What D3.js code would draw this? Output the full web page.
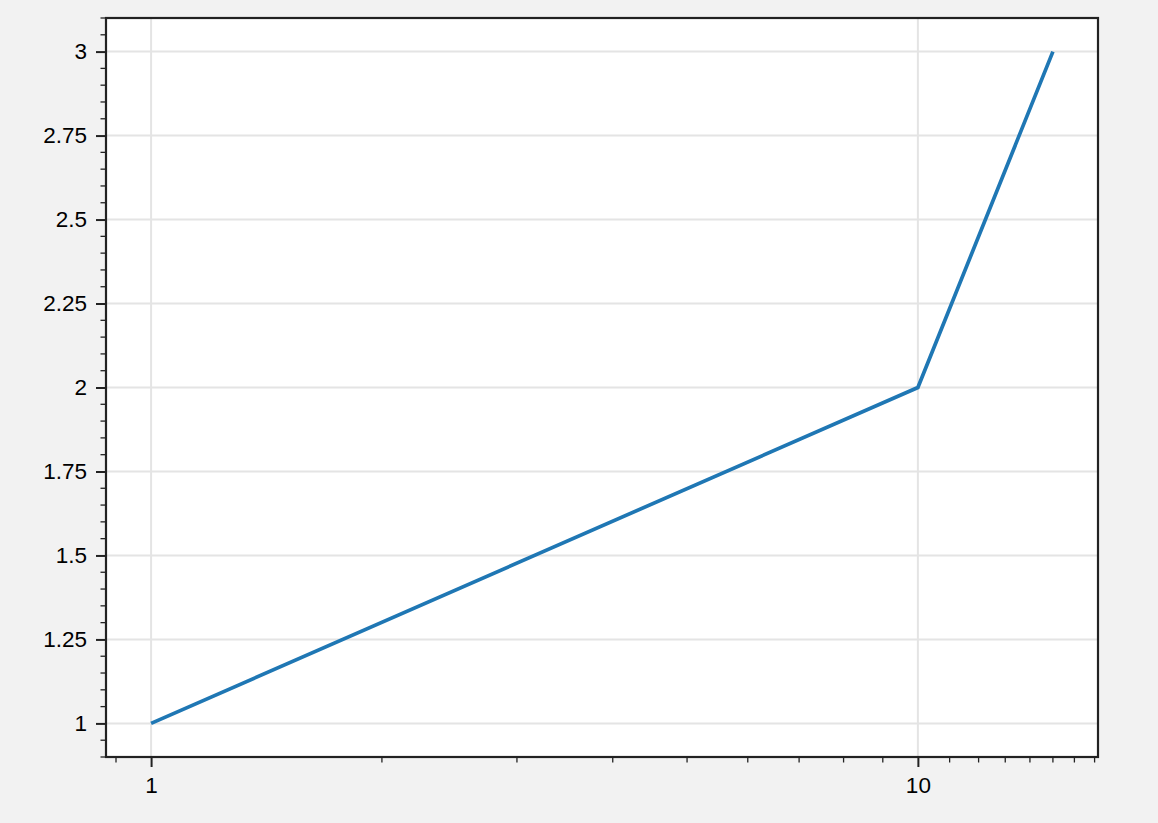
<!DOCTYPE html>
<html>
<head>
<meta charset="utf-8">
<script src="https://cdn.jsdelivr.net/npm/d3@7"></script>
<style>
  html, body { margin: 0; padding: 0; background: #f2f2f2; }
  svg { display: block; }
  text { font-family: "Liberation Sans", Arial, sans-serif; fill: #000; }
</style>
</head>
<body>
<svg id="chart"></svg>
<script>
// data
const xs = [1, 10, 15];
const ys = [1, 2, 3];
const xMajor = [1, 10];
const xMinor = [0.9, 2, 3, 4, 5, 6, 7, 8, 9, 11, 12, 13, 14, 15, 16, 17];
const yMajor = [1, 1.25, 1.5, 1.75, 2, 2.25, 2.5, 2.75, 3];
const yMinor = d3.range(0.9, 3.1001, 0.05).map(d => +d.toFixed(2));

const W = 1158, H = 823;
const mLeft = 106, mRight = 1098, mTop = 18, mBottom = 757;

let svg = d3.select("svg#chart")
  .attr("width", W)
  .attr("height", H);

// 5% margins in log space, like matplotlib
let lx = d3.extent(xs).map(Math.log10);
let pad = (lx[1] - lx[0]) * 0.05;
let xScale = d3.scaleLog()
  .domain([Math.pow(10, lx[0] - pad), Math.pow(10, lx[1] + pad)])
  .range([mLeft, mRight]);

let yScale = d3.scaleLinear()
  .domain([0.9, 3.1])
  .range([mBottom, mTop]);

svg.append("rect")
  .attr("x", mLeft).attr("y", mTop)
  .attr("width", mRight - mLeft).attr("height", mBottom - mTop)
  .style("fill", "white");

// grid
svg.append("g")
  .selectAll("line")
  .data(xMajor)
  .enter()
  .append("line")
  .attr("x1", d => xScale(d)).attr("x2", d => xScale(d))
  .attr("y1", mTop).attr("y2", mBottom)
  .style("stroke", "#e4e4e4").style("stroke-width", 2);

svg.append("g")
  .selectAll("line")
  .data(yMajor)
  .enter()
  .append("line")
  .attr("x1", mLeft).attr("x2", mRight)
  .attr("y1", d => yScale(d)).attr("y2", d => yScale(d))
  .style("stroke", "#e4e4e4").style("stroke-width", 2);

// line
let line = d3.line()
  .x((d, i) => xScale(xs[i]))
  .y(d => yScale(d));

svg.append("path")
  .datum(ys)
  .attr("d", line)
  .style("fill", "none")
  .style("stroke", "#1f77b4")
  .style("stroke-width", 3.7);

// spines
svg.append("rect")
  .attr("x", mLeft).attr("y", mTop)
  .attr("width", mRight - mLeft).attr("height", mBottom - mTop)
  .style("fill", "none")
  .style("stroke", "#222")
  .style("stroke-width", 2.2);

// x axis
let xAxis = d3.axisBottom(xScale)
  .tickValues(xMajor)
  .tickFormat(d3.format("d"))
  .tickSize(10)
  .tickPadding(10);

let gx = svg.append("g")
  .attr("transform", `translate(0,${mBottom})`)
  .call(xAxis);

gx.append("g")
  .selectAll("line")
  .data(xMinor)
  .enter()
  .append("line")
  .attr("x1", d => xScale(d)).attr("x2", d => xScale(d))
  .attr("y1", 0).attr("y2", 5.5)
  .style("stroke", "#222").style("stroke-width", 1.3);

// y axis
let yAxis = d3.axisLeft(yScale)
  .tickValues(yMajor)
  .tickFormat(d => String(+d.toFixed(2)))
  .tickSize(10)
  .tickPadding(9);

let gy = svg.append("g")
  .attr("transform", `translate(${mLeft},0)`)
  .call(yAxis);

gy.append("g")
  .selectAll("line")
  .data(yMinor.filter(d => !yMajor.includes(d)))
  .enter()
  .append("line")
  .attr("x1", 0).attr("x2", -5.5)
  .attr("y1", d => yScale(d)).attr("y2", d => yScale(d))
  .style("stroke", "#222").style("stroke-width", 1.3);

[gx, gy].forEach(g => {
  g.select(".domain").remove();
  g.selectAll(".tick line").style("stroke", "#222").style("stroke-width", 2);
  g.selectAll(".tick text")
    .style("font-family", '"Liberation Sans", Arial, sans-serif')
    .style("font-size", "22.5px")
    .style("fill", "#000");
});
</script>
</body>
</html>
